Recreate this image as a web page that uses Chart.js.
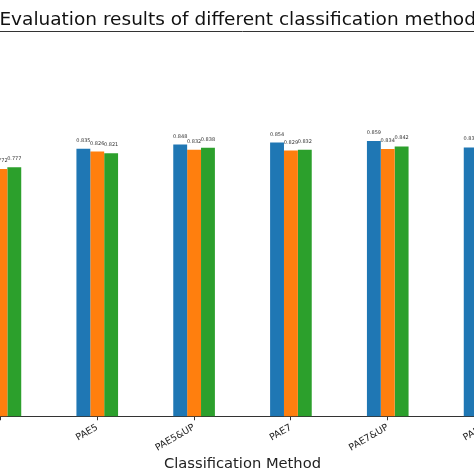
<!DOCTYPE html>
<html>
<head>
<meta charset="utf-8">
<script src="https://cdn.jsdelivr.net/npm/chart.js@4.4.0/dist/chart.umd.min.js"></script>
<style>
  html, body { margin: 0; padding: 0; background: #fff; overflow: hidden; }
  #wrap { position: absolute; left: -48px; top: 0; width: 581px; height: 474px; }
</style>
</head>
<body>
<div id="wrap"><canvas id="myChart"></canvas></div>
<script>
// values (first blue bar and last orange/green bars are cropped, so guessed)
var methods = ['PAE3&UP', 'PAE5', 'PAE5&UP', 'PAE7', 'PAE7&UP', 'PAE9'];
var blueVals = [0.787, 0.835, 0.848, 0.854, 0.859, 0.839];
var orangeVals = [0.772, 0.826, 0.832, 0.829, 0.834, 0.826];
var greenVals = [0.777, 0.821, 0.838, 0.832, 0.842, 0.831];
var seriesNames = ['Accuracy', 'Precision', 'F1-score'];
var yMax = 1.2;

// small value labels above every bar, like ax.text in matplotlib
var barValues = {
    id: 'barValues',
    afterDatasetsDraw: function(chart) {
        var c = chart.ctx;
        c.save();
        c.font = '5px "DejaVu Sans"';
        c.fillStyle = '#333';
        c.textAlign = 'center';
        c.textBaseline = 'alphabetic';
        chart.data.datasets.forEach(function(ds, i) {
            chart.getDatasetMeta(i).data.forEach(function(bar, j) {
                c.fillText(ds.data[j].toFixed(3), bar.x, bar.y - 7);
            });
        });
        c.restore();
    }
};

var ctx = document.getElementById('myChart').getContext('2d');
var myChart = new Chart(ctx, {
    type: 'bar',
    data: {
        labels: methods,
        datasets: [
            {label: seriesNames[0], data: blueVals, backgroundColor: '#1f77b4'},
            {label: seriesNames[1], data: orangeVals, backgroundColor: '#ff7f0e'},
            {label: seriesNames[2], data: greenVals, backgroundColor: '#2ca02c'}
        ]
    },
    options: {
        responsive: true,
        maintainAspectRatio: false,
        animation: false,
        datasets: {
            bar: {barPercentage: 1, categoryPercentage: 0.43}
        },
        layout: {padding: {top: 0, left: 0, right: 0, bottom: -1}},
        plugins: {
            legend: {display: false},
            tooltip: {enabled: false},
            title: {
                display: true,
                text: 'Evaluation results of different classification methods',
                color: '#111',
                font: {family: 'DejaVu Sans', size: 18.5, weight: 'normal'},
                padding: {top: 9.3, bottom: 0}
            }
        },
        scales: {
            x: {
                grid: {display: true, drawOnChartArea: false, offset: false, tickLength: 3.5, color: '#333'},
                border: {display: true, color: '#333', width: 1},
                ticks: {
                    color: '#222',
                    font: {family: 'DejaVu Sans', size: 9.5, lineHeight: 1},
                    minRotation: 30,
                    maxRotation: 30,
                    padding: 2.5
                },
                title: {
                    display: true,
                    text: 'Classification Method',
                    color: '#222',
                    font: {family: 'DejaVu Sans', size: 14.7},
                    padding: {top: 0, bottom: 2}
                }
            },
            y: {
                min: 0,
                max: yMax,
                ticks: {display: false, stepSize: 0.2},
                border: {display: false},
                grid: {
                    drawTicks: false,
                    color: function(c) {
                        return Math.abs(c.tick.value - yMax) < 1e-6 ? '#333' : 'rgba(0,0,0,0)';
                    }
                }
            }
        }
    },
    plugins: [barValues]
});
</script>
</body>
</html>
